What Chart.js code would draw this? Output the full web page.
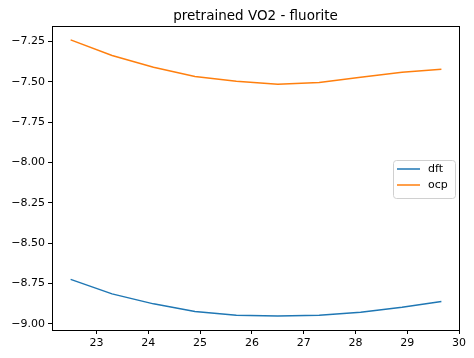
<!DOCTYPE html>
<html>
<head>
<meta charset="utf-8">
<script src="https://cdn.jsdelivr.net/npm/chart.js@4/dist/chart.umd.min.js"></script>
<style>
  body { margin: 0; background: #fff; }
  #wrap { width: 474px; height: 358px; }
</style>
</head>
<body>
<div id="wrap"><canvas id="chart" width="474" height="358"></canvas></div>
<script>
// values
const xValues = [22.5, 23.3, 24.1, 24.9, 25.7, 26.5, 27.3, 28.1, 28.9, 29.66];
const dftValues = [-8.725, -8.815, -8.877, -8.925, -8.947, -8.953, -8.947, -8.929, -8.898, -8.863];
const ocpValues = [-7.241, -7.338, -7.411, -7.468, -7.497, -7.516, -7.505, -7.472, -7.441, -7.423];
const xTicks = [23, 24, 25, 26, 27, 28, 29, 30];
const yTicks = [-9.0, -8.75, -8.5, -8.25, -8.0, -7.75, -7.5, -7.25];
const titleText = "pretrained VO2 - fluorite";

const FONT = "'DejaVu Sans', sans-serif";

function pts(ys) {
  return xValues.map((x, i) => ({ x: x, y: ys[i] }));
}

// frame round the plot, title over the plot, legend inside on the right
const framePlugin = {
  id: "frame",
  afterDraw(chart) {
    const ctx = chart.ctx;
    const a = chart.chartArea;
    ctx.save();
    ctx.strokeStyle = "#000";
    ctx.lineWidth = 1;
    ctx.strokeRect(Math.round(a.left) + 0.5, Math.round(a.top) + 0.5,
      Math.round(a.right - a.left), Math.round(a.bottom - a.top));

    // title, centred on the plot area
    ctx.fillStyle = "#000";
    ctx.font = "13.5px " + FONT;
    ctx.textAlign = "center";
    ctx.textBaseline = "alphabetic";
    ctx.fillText(titleText, (a.left + a.right) / 2, 20);

    // legend box
    const bx = 393, by = 160, bw = 62, bh = 38;
    ctx.fillStyle = "rgba(255,255,255,0.8)";
    ctx.strokeStyle = "#d0d0d0";
    ctx.beginPath();
    ctx.roundRect(bx + 0.5, by + 0.5, bw, bh, 3);
    ctx.fill();
    ctx.stroke();
    ctx.font = "11px " + FONT;
    ctx.textAlign = "left";
    ctx.textBaseline = "middle";
    chart.data.datasets.forEach((ds, i) => {
      const y = by + 9 + i * 16;
      ctx.strokeStyle = ds.borderColor;
      ctx.lineWidth = 1.5;
      ctx.beginPath();
      ctx.moveTo(bx + 4, y);
      ctx.lineTo(bx + 27, y);
      ctx.stroke();
      ctx.fillStyle = "#000";
      ctx.fillText(ds.label, bx + 35, y);
    });
    ctx.restore();
  }
};

const config = {
  type: "line",
  data: {
    datasets: [
      {
        label: "dft",
        data: pts(dftValues),
        borderColor: "#1f77b4",
        backgroundColor: "#1f77b4",
        borderWidth: 1.5,
        pointRadius: 0,
        tension: 0
      },
      {
        label: "ocp",
        data: pts(ocpValues),
        borderColor: "#ff7f0e",
        backgroundColor: "#ff7f0e",
        borderWidth: 1.5,
        pointRadius: 0,
        tension: 0
      }
    ]
  },
  options: {
    responsive: false,
    animation: false,
    layout: { padding: { left: 0, right: 15, top: 26, bottom: 0 } },
    plugins: {
      legend: { display: false },
      tooltip: { enabled: false },
      title: { display: false }
    },
    scales: {
      x: {
        type: "linear",
        min: 22.14,
        max: 30.0,
        afterBuildTicks(scale) {
          scale.ticks = xTicks.map(v => ({ value: v }));
        },
        afterFit(scale) { scale.height = 28; },
        ticks: {
          color: "#000",
          font: { family: FONT, size: 11 },
          padding: 3,
          maxRotation: 0,
          callback: v => String(v)
        },
        grid: { drawOnChartArea: false, drawTicks: true, tickLength: 4, color: "#000" },
        border: { display: true, color: "#000" }
      },
      y: {
        type: "linear",
        min: -9.039,
        max: -7.155,
        afterBuildTicks(scale) {
          scale.ticks = yTicks.map(v => ({ value: v }));
        },
        afterFit(scale) { scale.width = 52; },
        ticks: {
          color: "#000",
          font: { family: FONT, size: 11 },
          padding: 3,
          callback: v => (v < 0 ? "\u2212" : "") + Math.abs(v).toFixed(2)
        },
        grid: { drawOnChartArea: false, drawTicks: true, tickLength: 4, color: "#000" },
        border: { display: true, color: "#000" }
      }
    }
  },
  plugins: [framePlugin]
};

const myChart = new Chart(document.getElementById("chart"), config);
</script>
</body>
</html>
